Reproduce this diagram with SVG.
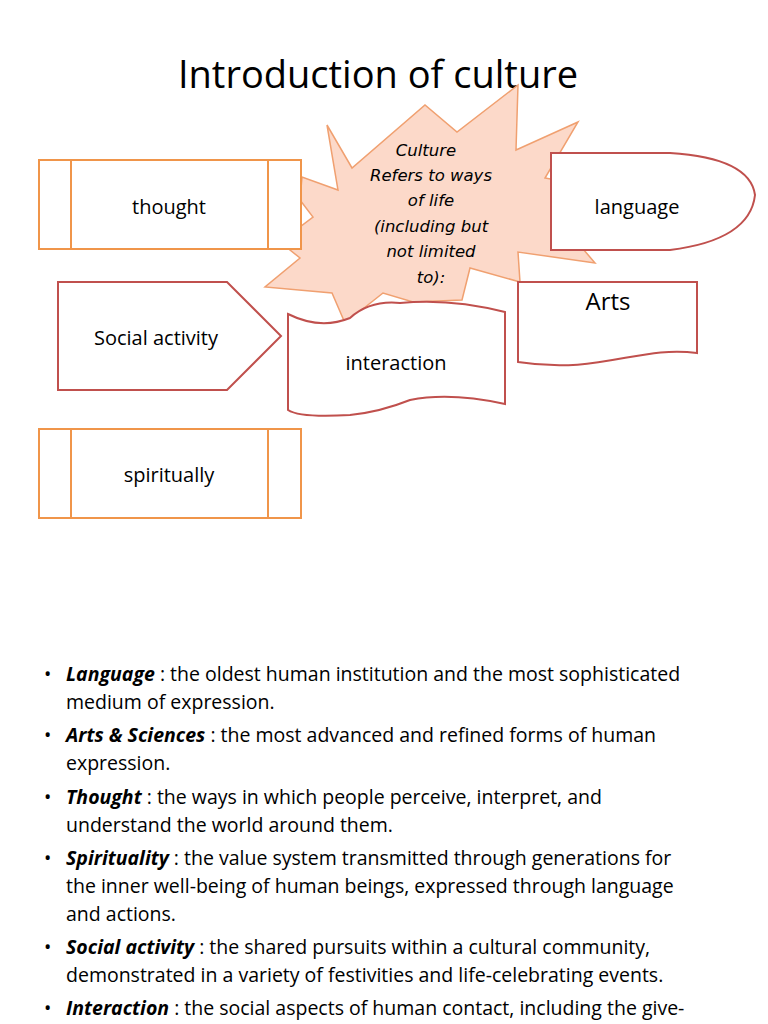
<svg xmlns="http://www.w3.org/2000/svg" width="768" height="1024" viewBox="0 0 768 1024">
<style>
text{font-family:"Open Sans","Liberation Sans",sans-serif;fill:#000}
.o{fill:#fff;stroke:#f0954a;stroke-width:2}
.r{fill:#fff;stroke:#c0504d;stroke-width:2}
.n{font-size:20px;text-anchor:middle}
.b{font-size:19.5px}
.c{font-family:"DejaVu Sans",sans-serif;font-style:italic;font-size:16.5px;text-anchor:middle}
</style>
<rect width="768" height="1024" fill="#fff"/>
<text x="378" y="88" font-size="38" text-anchor="middle">Introduction of culture</text>
<g id="star">
<polygon points="327,125 352,168 425,105 457,132 518,85 516,150 578,122 545,178 610,190 560,222 595,263 518,252 520,282 470,268 462,300 413,302 383,293 345,323 332,293 265,287 300,258 280,242 313,217 300,200 302,177 338,190" fill="#fcd9c9" stroke="#f0a070" stroke-width="1.5"/>
<text class="c" x="426" y="156">Culture</text>
<text class="c" x="431" y="181">Refers to ways</text>
<text class="c" x="431" y="206">of life</text>
<text class="c" x="431" y="232">(including but</text>
<text class="c" x="431" y="257">not limited</text>
<text class="c" x="431" y="283">to):</text>
</g>
<g id="thought"><rect class="o" x="39" y="160" width="262" height="89"/><line class="o" x1="71" y1="160" x2="71" y2="249"/><line class="o" x1="268" y1="160" x2="268" y2="249"/><text class="n" x="169" y="214">thought</text></g>
<g id="language"><path class="r" d="M551,153 H670 Q750,158 755,195 Q750,240 670,250 H551 Z"/><text class="n" x="637" y="214">language</text></g>
<g id="social"><path class="r" d="M58,282 H227 L281,336 L227,390 H58 Z"/><text class="n" x="156" y="345">Social activity</text></g>
<g id="arts"><path class="r" d="M518,282 H697 V353 C640,345 600,375 518,362 Z"/><text x="608" y="310" font-size="24" text-anchor="middle">Arts</text></g>
<g id="interaction"><path class="r" d="M288,314 Q320,330 350,318 Q370,300 400,303 Q450,298 505,312 V404 Q450,392 410,400 Q380,412 350,415 Q300,418 288,410 Z"/><text class="n" x="396" y="370">interaction</text></g>
<g id="spiritually"><rect class="o" x="39" y="429" width="262" height="89"/><line class="o" x1="71" y1="429" x2="71" y2="518"/><line class="o" x1="268" y1="429" x2="268" y2="518"/><text class="n" x="169" y="482">spiritually</text></g>
<g id="connectors"/>
<g class="b">
<text x="44" y="681">•</text><text x="66" y="681"><tspan font-weight="bold" font-style="italic">Language</tspan> : the oldest human institution and the most sophisticated</text>
<text x="66" y="709">medium of expression.</text>
<text x="44" y="742">•</text><text x="66" y="742"><tspan font-weight="bold" font-style="italic">Arts &amp; Sciences</tspan> : the most advanced and refined forms of human</text>
<text x="66" y="770">expression.</text>
<text x="44" y="804">•</text><text x="66" y="804"><tspan font-weight="bold" font-style="italic">Thought</tspan> : the ways in which people perceive, interpret, and</text>
<text x="66" y="832">understand the world around them.</text>
<text x="44" y="865">•</text><text x="66" y="865"><tspan font-weight="bold" font-style="italic">Spirituality</tspan> : the value system transmitted through generations for</text>
<text x="66" y="893">the inner well-being of human beings, expressed through language</text>
<text x="66" y="921">and actions.</text>
<text x="44" y="954">•</text><text x="66" y="954"><tspan font-weight="bold" font-style="italic">Social activity</tspan> : the shared pursuits within a cultural community,</text>
<text x="66" y="982">demonstrated in a variety of festivities and life-celebrating events.</text>
<text x="44" y="1015">•</text><text x="66" y="1015"><tspan font-weight="bold" font-style="italic">Interaction</tspan> : the social aspects of human contact, including the give-</text>
</g>
</svg>
